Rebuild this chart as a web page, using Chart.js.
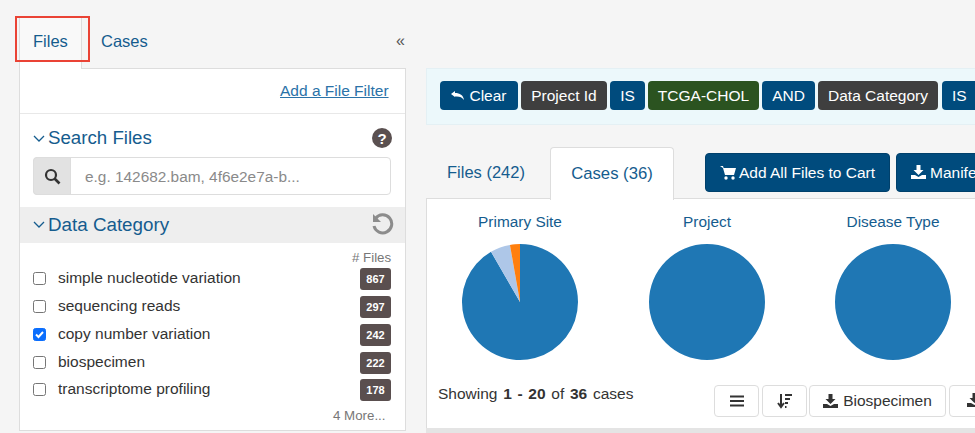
<!DOCTYPE html>
<html><head><meta charset="utf-8">
<script src="https://cdn.jsdelivr.net/npm/chart.js@4"></script>
<style>
html,body{margin:0;padding:0;width:975px;height:433px;overflow:hidden;background:#f5f5f5;font-family:"Liberation Sans",Arial,sans-serif;color:#333}
.a{position:absolute;white-space:nowrap;box-sizing:border-box}
.c{display:flex;align-items:center;justify-content:center}
.chip{top:81px;height:29px;border-radius:4px;color:#fff;font-size:15.5px;background:#004b7d}
.blue{color:#155c8e}
.btn{background:#004b7d;color:#fff;border-radius:4px;top:153px;height:39px;font-size:15.5px;border:1px solid #00406b}
.tool{top:385px;height:32px;background:#fff;border:1px solid #ddd;border-radius:4px;font-size:15.5px;color:#333}
.box{width:13px;height:13px;border:1px solid #767676;border-radius:2.5px;background:#fff;left:33px}
.badge{left:360px;width:31px;height:22px;background:#5a4f4f;color:#fff;border-radius:3px;font-size:11px;font-weight:bold}
canvas{display:block}
</style></head><body>

<div class="a" style="left:19px;top:68px;width:387px;height:363px;background:#fff;border:1px solid #ddd"></div>
<div class="a" style="left:19px;top:18px;width:63px;height:51px;background:#f9f9f9;border:1px solid #ddd;border-bottom:0;border-top:0;"></div>
<div class="a" style="left:20px;top:62px;width:61px;height:7px;background:#fff"></div>
<div class="a" style="left:15px;top:16px;width:75px;height:46px;border:2px solid #ea4335"></div>
<div class="a blue" style="left:33px;top:32px;font-size:16.5px">Files</div>
<div class="a blue" style="left:101px;top:32px;font-size:16.5px">Cases</div>
<div class="a" style="left:396px;top:32px;font-size:16px;color:#555">«</div>
<div class="a blue" style="left:280px;top:82px;font-size:15.5px;text-decoration:underline;color:#2a72a8">Add a File Filter</div>
<div class="a" style="left:20px;top:113px;width:385px;height:1px;background:#e8e8e8"></div>
<svg class="a" style="left:33px;top:134px" width="12" height="10"><path d="M1 2l5 5 5-5" fill="none" stroke="#155c8e" stroke-width="1.3"/></svg>
<div class="a blue" style="left:48px;top:127px;font-size:18.7px">Search Files</div>
<div class="a c" style="left:372px;top:128px;width:20px;height:20px;border-radius:50%;background:#5a5050;color:#fff;font-weight:bold;font-size:15px">?</div>
<div class="a" style="left:33px;top:157px;width:358px;height:38px;background:#fff;border:1px solid #ddd;border-radius:4px"></div>
<div class="a c" style="left:33px;top:157px;width:38px;height:38px;background:#e2e2e2;border:1px solid #ddd;border-radius:4px 0 0 4px"><svg width="17" height="17"><circle cx="7" cy="7" r="5" fill="none" stroke="#333" stroke-width="2.2"/><path d="M10.5 10.5l5 5" stroke="#333" stroke-width="2.6"/></svg></div>
<div class="a" style="left:85px;top:168px;font-size:15.4px;color:#8a8a8a">e.g. 142682.bam, 4f6e2e7a-b...</div>
<div class="a" style="left:20px;top:207px;width:385px;height:36px;background:#eee"></div>
<svg class="a" style="left:33px;top:220px" width="12" height="10"><path d="M1 2l5 5 5-5" fill="none" stroke="#155c8e" stroke-width="1.3"/></svg>
<div class="a blue" style="left:48px;top:214px;font-size:18.8px">Data Category</div>
<svg class="a" style="left:370px;top:212px" width="24" height="24" viewBox="0 0 24 24"><path d="M5.5 6.5A9 9 0 1 1 4 14" fill="none" stroke="#8c8c8c" stroke-width="3"/><path d="M3 2v8h8z" fill="#8c8c8c"/></svg>
<div class="a" style="left:352px;top:250px;font-size:13.3px;color:#777"># Files</div>
<div id="rows"></div>
<div class="a" style="left:333px;top:408px;font-size:13.3px;color:#777">4 More...</div>

<div class="a" style="left:426px;top:68px;width:560px;height:57px;background:#ecf8fb;border:1px solid #e4f0f4"></div>
<div id="chips"></div>
<div class="a" style="left:426px;top:198px;width:560px;height:240px;background:#fff;border-top:1px solid #ddd;border-left:1px solid #ddd"></div>
<div class="a blue" style="left:447px;top:163px;font-size:16.5px">Files (242)</div>
<div class="a c blue" style="left:550px;top:147px;width:124px;height:53px;background:#fff;border:1px solid #ddd;border-bottom:0;border-radius:4px 4px 0 0;font-size:16.7px">Cases (36)</div>
<div class="a btn c" style="left:705px;width:185px"><svg width="16" height="15" style="margin-right:3px" viewBox="0 0 16 15"><path d="M0 1h3l.6 2H16l-2 7H5L3 3" fill="#fff"/><circle cx="6" cy="13" r="1.7" fill="#fff"/><circle cx="13" cy="13" r="1.7" fill="#fff"/></svg>Add All Files to Cart</div>
<div class="a btn" style="left:896px;width:100px;padding:10px 0 0 14px"><svg width="15" height="14" style="margin-right:4px;vertical-align:-1px" viewBox="0 0 15 14"><path d="M5.5 0h4v5h3l-5 5-5-5h3zM0 10h4l3.5 2 3.500-2h4v4H0z" fill="#fff"/></svg>Manifest</div>

<div id="titles"></div>
<div class="a" style="left:452px;top:243px;width:136px;height:118px"><canvas id="pie0"></canvas></div>
<div class="a" style="left:639px;top:243px;width:136px;height:118px"><canvas id="pie1"></canvas></div>
<div class="a" style="left:825px;top:243px;width:136px;height:118px"><canvas id="pie2"></canvas></div>

<div class="a" style="left:438px;top:385px;font-size:15.5px;word-spacing:1.4px">Showing <b>1 - 20</b> of <b>36</b> cases</div>
<div class="a tool c" style="left:714px;width:45px"><svg width="14" height="12"><path d="M0 1.500h14M0 6h14M0 10.500h14" stroke="#333" stroke-width="2"/></svg></div>
<div class="a tool c" style="left:762px;width:45px"><svg width="15" height="16"><path d="M4 1v12M1 10l3 4 3-4" fill="none" stroke="#333" stroke-width="2"/><path d="M8 2h7M8 6h5M8 10h3M8 14h1.500" stroke="#333" stroke-width="2"/></svg></div>
<div class="a tool c" style="left:809px;width:137px"><svg width="15" height="14" style="margin-right:5px" viewBox="0 0 15 14"><path d="M5.500 0h4v5h3l-5 5-5-5h3zM0 10h4l3.500 2 3.500-2h4v4H0z" fill="#333"/></svg>Biospecimen</div>
<div class="a tool" style="left:949px;width:60px;padding:7px 0 0 17px"><svg width="15" height="14" viewBox="0 0 15 14"><path d="M5.500 0h4v5h3l-5 5-5-5h3zM0 10h4l3.500 2 3.500-2h4v4H0z" fill="#333"/></svg></div>
<div class="a" style="left:426px;top:428px;width:549px;height:5px;background:#e4e4e4"></div>

<script>
// Facet rows in the sidebar
const categoryNames = ["simple nucleotide variation","sequencing reads","copy number variation","biospecimen","transcriptome profiling"];
const categoryCounts = [867,297,242,222,178];
const categoryChecked = [false,false,true,false,false];
// Filter chips
const chipLabels = ["Clear","Project Id","IS","TCGA-CHOL","AND","Data Category","IS"];
// Pie charts
const pieTitles = ["Primary Site","Project","Disease Type"];
const primarySiteCounts = [33,2,1];
const primarySiteLabels = ["Liver and intrahepatic bile ducts","Gallbladder","Other"];
const projectCounts = [36];
const projectLabels = ["TCGA-CHOL"];
const diseaseCounts = [36];
const diseaseLabels = ["Adenomas and Adenocarcinomas"];
const pieColors = ["#1f77b4","#aec7e8","#ff7f0e"];

const rowY = [278,306,334,362,389];
let h = "";
categoryNames.forEach((n,i)=>{
  const y = rowY[i];
  h += categoryChecked[i]
    ? `<div class="a box c" style="top:${y-6}px;background:#0b6efd;border-color:#0b6efd"><svg width="11" height="11"><path d="M2 5.500l2.500 2.500 4.500-5" fill="none" stroke="#fff" stroke-width="2"/></svg></div>`
    : `<div class="a box" style="top:${y-6}px"></div>`;
  h += `<div class="a" style="left:58px;top:${y-9}px;font-size:15.5px">${n}</div>`;
  h += `<div class="a badge c" style="top:${y-10}px">${categoryCounts[i]}</div>`;
});
document.getElementById("rows").innerHTML = h;

const chipX = [440,521,610,648,762,818,942];
const chipW = [78,86,35,111,53,120,50];
const chipBg = ["#004b7d","#3f3f3f","#004b7d","#2b5320","#004b7d","#3f3f3f","#004b7d"];
document.getElementById("chips").innerHTML = chipLabels.map((t,i)=>{
  const icon = i===0 ? `<svg width="13" height="10" style="margin-right:5px" viewBox="0 0 13 10"><path d="M0 3l4-3v2c5 0 8 2 9 7-2-3-5-4-9-3.500V6z" fill="#fff"/></svg>` : "";
  const s = i===6 ? "justify-content:flex-start;padding-left:10px;" : "";
  return `<div class="a chip c" style="left:${chipX[i]}px;width:${chipW[i]}px;background:${chipBg[i]};${s}">${icon}${t}</div>`;
}).join("");

const titleCx = [520,707,893];
document.getElementById("titles").innerHTML = pieTitles.map((t,i)=>
  `<div class="a blue c" style="left:${titleCx[i]-80}px;width:160px;top:213px;font-size:15.4px">${t}</div>`).join("");

const pies = [[primarySiteLabels,primarySiteCounts],[projectLabels,projectCounts],[diseaseLabels,diseaseCounts]];
pies.forEach(([labels,data],i)=>{
  new Chart(document.getElementById("pie"+i),{
    type:"pie",
    data:{labels,datasets:[{data,backgroundColor:pieColors,borderWidth:0}]},
    options:{responsive:true,maintainAspectRatio:false,animation:false,radius:58,
      layout:{padding:0},plugins:{legend:{display:false},tooltip:{enabled:false}}}
  });
});
</script>
</body></html>
